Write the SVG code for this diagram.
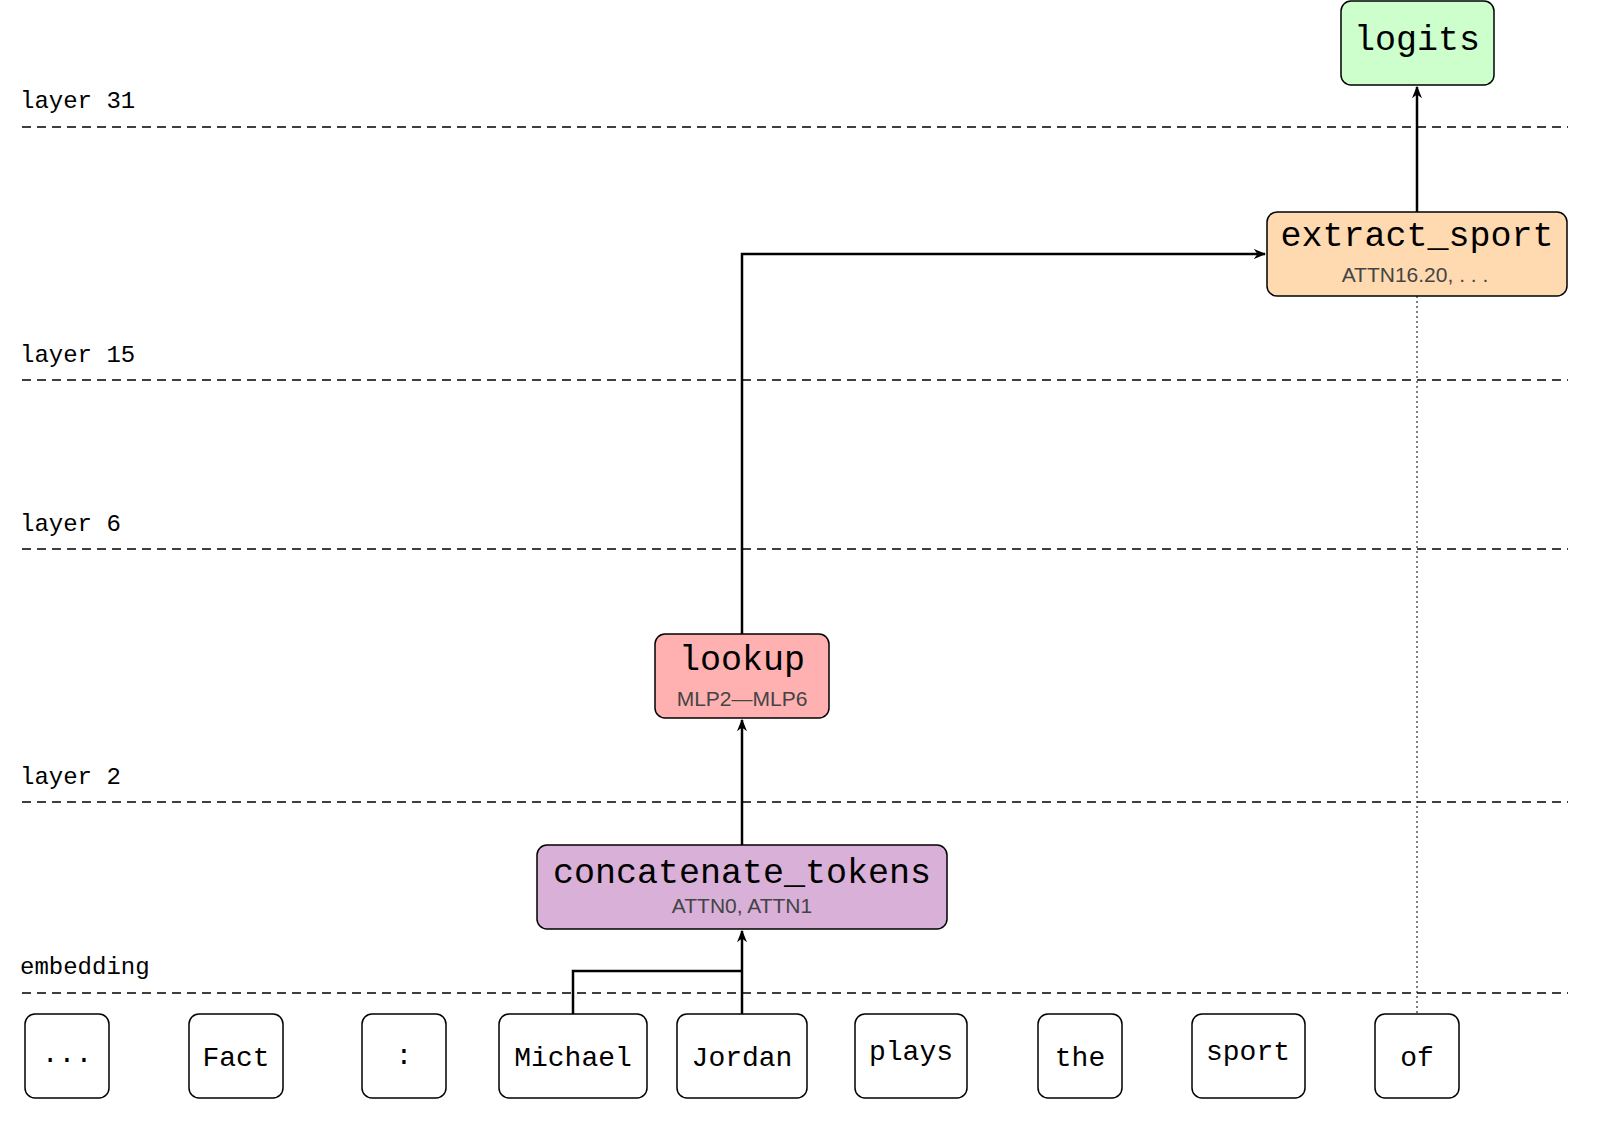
<svg xmlns="http://www.w3.org/2000/svg" width="1600" height="1121" viewBox="0 0 1600 1121">
<style>
.lbl{font-family:"Liberation Mono","DejaVu Sans Mono",monospace;font-size:24px;fill:#000}
.dash{stroke:#000;stroke-width:1.5;stroke-dasharray:9,6;fill:none}
.box{stroke:#000;stroke-width:1.5}
.title{font-family:"Liberation Mono","DejaVu Sans Mono",monospace;font-size:35px;fill:#000;text-anchor:middle}
.sub{font-family:"Liberation Sans",Arial,sans-serif;font-size:21px;fill:#444;text-anchor:middle}
.tok{font-family:"Liberation Mono","DejaVu Sans Mono",monospace;font-size:28px;fill:#000;text-anchor:middle}
.edge{stroke:#000;stroke-width:2.5;fill:none}
</style>
<defs>
<marker id="ah" viewBox="0 0 10 10" refX="9" refY="5" markerWidth="5" markerHeight="5" orient="auto">
<path d="M0,1 L10,5 L0,9 L3,5 Z" fill="#000"/>
</marker>
</defs>
<rect width="1600" height="1121" fill="#fff"/>
<g id="layers">
<text class="lbl" x="20" y="108">layer 31</text>
<line class="dash" x1="22" y1="127" x2="1568" y2="127"/>
<text class="lbl" x="20" y="362">layer 15</text>
<line class="dash" x1="22" y1="380" x2="1568" y2="380"/>
<text class="lbl" x="20" y="531">layer 6</text>
<line class="dash" x1="22" y1="549" x2="1568" y2="549"/>
<text class="lbl" x="20" y="784">layer 2</text>
<line class="dash" x1="22" y1="802" x2="1568" y2="802"/>
<text class="lbl" x="20" y="974">embedding</text>
<line class="dash" x1="22" y1="993" x2="1568" y2="993"/>
</g>
<g id="connectors">
<line x1="1417" y1="296" x2="1417" y2="1014" stroke="#000" stroke-width="1" stroke-dasharray="2,3"/>
<polyline class="edge" points="573,1014 573,971 742,971"/>
<line class="edge" x1="742" y1="1014" x2="742" y2="931" marker-end="url(#ah)"/>
<line class="edge" x1="742" y1="845" x2="742" y2="720" marker-end="url(#ah)"/>
<polyline class="edge" points="742,634 742,254 1265,254" marker-end="url(#ah)"/>
<line class="edge" x1="1417" y1="212" x2="1417" y2="87" marker-end="url(#ah)"/>
</g>
<g id="logits"><rect class="box" x="1341" y="1" width="153" height="84" rx="10" fill="#ccffcc"/><text class="title" x="1417" y="50">logits</text></g>
<g id="extract_sport"><rect class="box" x="1267" y="212" width="300" height="84" rx="10" fill="#ffdab0"/><text class="title" x="1417" y="246">extract_sport</text><text class="sub" x="1415" y="282">ATTN16.20, . . .</text></g>
<g id="lookup"><rect class="box" x="655" y="634" width="174" height="84" rx="10" fill="#ffb0b0"/><text class="title" x="742" y="670">lookup</text><text class="sub" x="742" y="706">MLP2—MLP6</text></g>
<g id="concatenate_tokens"><rect class="box" x="537" y="845" width="410" height="84" rx="10" fill="#d8b0d8"/><text class="title" x="742" y="883">concatenate_tokens</text><text class="sub" x="742" y="913">ATTN0, ATTN1</text></g>
<g id="tok0"><rect class="box" x="25" y="1014" width="84" height="84" rx="10" fill="#fff"/><text class="tok" x="67" y="1062">...</text></g>
<g id="tok1"><rect class="box" x="189" y="1014" width="94" height="84" rx="10" fill="#fff"/><text class="tok" x="236" y="1066">Fact</text></g>
<g id="tok2"><rect class="box" x="362" y="1014" width="84" height="84" rx="10" fill="#fff"/><text class="tok" x="404" y="1064">:</text></g>
<g id="tok3"><rect class="box" x="499" y="1014" width="148" height="84" rx="10" fill="#fff"/><text class="tok" x="573" y="1066">Michael</text></g>
<g id="tok4"><rect class="box" x="677" y="1014" width="130" height="84" rx="10" fill="#fff"/><text class="tok" x="742" y="1066">Jordan</text></g>
<g id="tok5"><rect class="box" x="855" y="1014" width="112" height="84" rx="10" fill="#fff"/><text class="tok" x="911" y="1060">plays</text></g>
<g id="tok6"><rect class="box" x="1038" y="1014" width="84" height="84" rx="10" fill="#fff"/><text class="tok" x="1080" y="1066">the</text></g>
<g id="tok7"><rect class="box" x="1192" y="1014" width="113" height="84" rx="10" fill="#fff"/><text class="tok" x="1248" y="1060">sport</text></g>
<g id="tok8"><rect class="box" x="1375" y="1014" width="84" height="84" rx="10" fill="#fff"/><text class="tok" x="1417" y="1066">of</text></g>
</svg>
